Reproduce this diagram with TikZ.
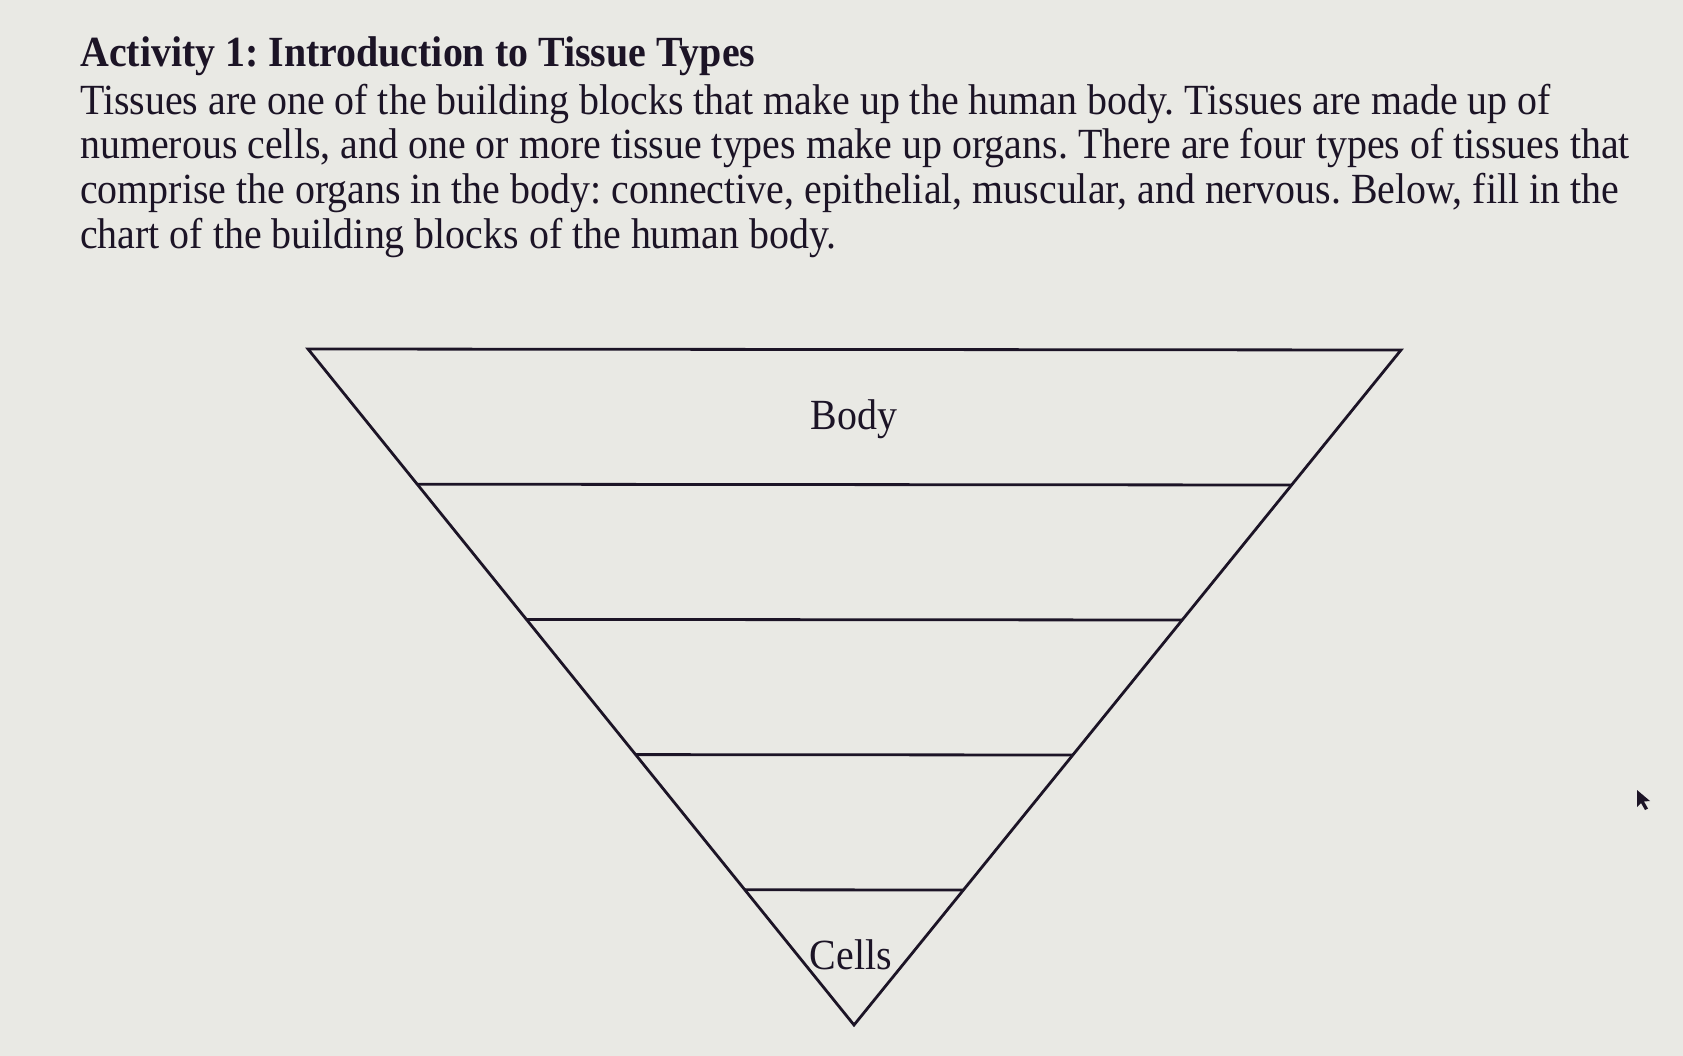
\documentclass[tikz,border=0pt]{standalone}
\usepackage{fontspec}
\setmainfont[FakeStretch=0.928]{Liberation Serif}
\usetikzlibrary{positioning,calc}
\definecolor{paper}{RGB}{233,233,228}
\definecolor{ink}{RGB}{28,20,38}
\frenchspacing

\tikzset{
  txtline/.style={anchor=base west, inner sep=0pt, text=ink, font=\fontsize{43}{45}\selectfont},
  lbl/.style={anchor=base, inner sep=0pt, text=ink, font=\fontsize{43}{45}\selectfont},
  band/.style={draw=ink, line width=2.8pt}
}

\begin{document}
\begin{tikzpicture}[x=1pt,y=-1pt]
\fill[paper] (0,0) rectangle (1683,1056);
\useasboundingbox (0,0) rectangle (1683,1056);

% heading and paragraph
\node[txtline] (Title) at (80,67) {\textbf{Activity 1: Introduction to Tissue Types}};
\node[txtline] (Par1) at (80,115) {Tissues are one of the building blocks that make up the human body. Tissues are made up of};
\node[txtline] (Par2) at (80,159) {numerous cells, and one or more tissue types make up organs. There are four types of tissues that};
\node[txtline] (Par3) at (80,204) {comprise the organs in the body: connective, epithelial, muscular, and nervous. Below, fill in the};
\node[txtline] (Par4) at (80,249) {chart of the building blocks of the human body.};

% the pyramid
\coordinate (TL) at (308,349);
\coordinate (TR) at (1401,350);
\coordinate (Apex) at (854,1025);
\draw[band] (TL) -- (TR) -- (Apex) -- cycle;
\foreach \i in {1,...,4}
  \draw[band] ($(TL)!\i/5!(Apex)$) -- ($(TR)!\i/5!(Apex)$);

\node[lbl] (Body) at (854,429) {Body};
\node[lbl] (Cells) at (851,969) {Cells};

% mouse pointer
\fill[ink] (1637,790) -- ++(0,17) -- ++(4,-4) -- ++(4,7) -- ++(3,-1.5) -- ++(-4,-7) -- ++(6,-0.5) -- cycle;
\end{tikzpicture}
\end{document}
